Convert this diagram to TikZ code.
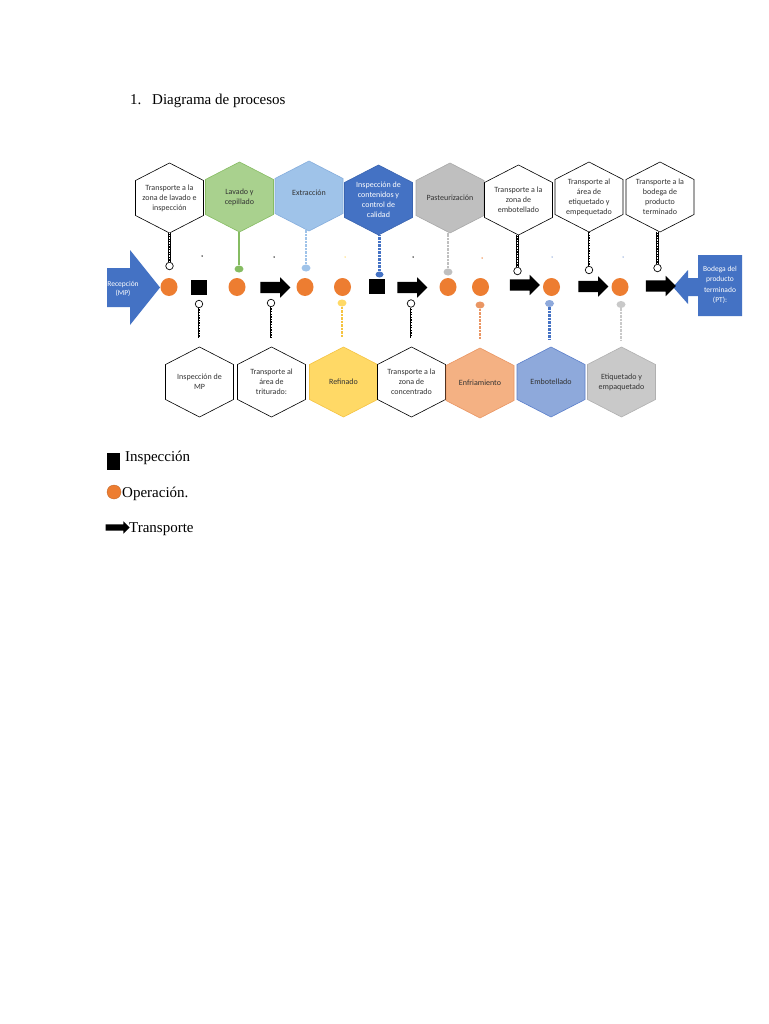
\documentclass[tikz,border=0pt]{standalone}
\usepackage{fontspec}
\setmainfont{Liberation Serif}
\newfontfamily\hexfont{Carlito}
\usetikzlibrary{shapes.arrows,shapes.geometric}
\definecolor{opc}{HTML}{ED7D31}
\definecolor{gfill}{HTML}{A9D18E}\definecolor{gdraw}{HTML}{86BC62}
\definecolor{lbfill}{HTML}{9FC3E9}\definecolor{lbdraw}{HTML}{86AEDD}
\definecolor{dbfill}{HTML}{4472C4}\definecolor{dbdraw}{HTML}{3A64B0}
\definecolor{gyfill}{HTML}{BFBFBF}\definecolor{gydraw}{HTML}{A8A8A8}
\definecolor{yfill}{HTML}{FFD966}\definecolor{ydraw}{HTML}{F5C342}
\definecolor{sfill}{HTML}{F4B183}\definecolor{sdraw}{HTML}{EA9663}
\definecolor{efill}{HTML}{8EA9DB}\definecolor{edraw}{HTML}{5B7FCB}
\definecolor{etfill}{HTML}{C9C9C9}\definecolor{etdraw}{HTML}{B0B0B0}
\definecolor{txtc}{HTML}{333333}
\newcommand\hexa[6]{%
  \draw[#4] (#2,#3) ++(0,-35) -- ++(34,17.5) -- ++(0,35) -- ++(-34,17.5) -- ++(-34,-17.5) -- ++(0,-35) -- cycle;
  \node[hextxt,#5] (#1) at (#2,#3) {#6};}
\begin{document}
\begin{tikzpicture}[x=1pt,y=-1pt,
  hexw/.style={draw=black,fill=white,line width=0.6pt},
  hexc/.style={fill=#1fill,draw=#1draw,line width=0.6pt},
  hextxt/.style={minimum width=68pt,minimum height=70pt,inner sep=0pt,align=center,
     font=\hexfont\fontsize{8}{10}\selectfont,text=txtc},
  op/.style={ellipse,fill=opc,minimum width=17pt,minimum height=18pt,inner sep=0pt},
  insp/.style={rectangle,fill=black,minimum width=16pt,minimum height=15pt,inner sep=0pt},
  tr/.style={single arrow,fill=black,minimum height=30pt,inner xsep=0pt,inner ysep=5.5pt,
     single arrow head extend=4.5pt},
  knobw/.style={circle,draw=black,fill=white,line width=0.7pt,minimum size=7.5pt,inner sep=0pt},
  knobc/.style={ellipse,fill=#1,minimum width=9pt,minimum height=7pt,inner sep=0pt},
  chainb/.style={draw=black,line width=2.4pt,
     postaction={draw=white,line width=0.8pt,dash pattern=on 1.3pt off 1.3pt}},
  chainc/.style={draw=#1,line width=2.5pt,dash pattern=on 2.5pt off 1pt},
  dot/.style={circle,fill=#1,minimum size=1.5pt,inner sep=0pt},
  legtxt/.style={font=\fontsize{15}{18}\selectfont,inner sep=0pt,anchor=base west}]
\useasboundingbox (0,0) rectangle (768,1024);
\fill[white] (0,0) rectangle (768,1024);

% title
\node[legtxt] (num) at (130,105) {1.};
\node[legtxt] (title) at (152,105) {Diagrama de procesos};

% top hexagons
\hexa{h1}{169.5}{198}{hexw}{}{Transporte a la\\zona de lavado e\\inspección}
\hexa{h2}{239.5}{197}{hexc=g}{}{Lavado y\\cepillado}
\hexa{h3}{309}{196}{hexc=lb}{yshift=3pt}{Extracción}
\hexa{h4}{378.5}{200}{hexc=db}{text=white}{Inspección de\\contenidos y\\control de\\calidad}
\hexa{h5}{450}{198}{hexc=gy}{}{Pasteurización}
\hexa{h6}{518.5}{200}{hexw}{}{Transporte a la\\zona de\\embotellado}
\hexa{h7}{589}{197}{hexw}{}{Transporte al\\área de\\etiquetado y\\empequetado}
\hexa{h8}{660}{197}{hexw}{}{Transporte a la\\bodega de\\producto\\terminado}

% bottom hexagons
\hexa{b1}{199.5}{382}{hexw}{}{Inspección de\\MP}
\hexa{b2}{271.5}{382}{hexw}{}{Transporte al\\área de\\triturado:}
\hexa{b3}{343.5}{382}{hexc=y}{}{Refinado}
\hexa{b4}{411.5}{382}{hexw}{}{Transporte a la\\zona de\\concentrado}
\hexa{b5}{480}{383}{hexc=s}{}{Enfriamiento}
\hexa{b6}{551}{382}{hexc=e}{}{Embotellado}
\hexa{b7}{621.5}{382}{hexc=et}{}{Etiquetado y\\empaquetado}

% reception arrow
\fill[dbfill] (107,268) -- (130,268) -- (130,250) -- (160,287.5) -- (130,325) -- (130,307) -- (107,307) -- cycle;
\node[font=\hexfont\fontsize{7.5}{9}\selectfont,text=white,align=center,inner sep=0pt] (rec) at (123,289) {Recepción\\(MP)};

% bodega arrow
\fill[dbfill] (742,255) -- (742,316) -- (698,316) -- (698,296) -- (688,296) -- (688,304) -- (673,287) -- (688,270) -- (688,278) -- (698,278) -- (698,255) -- cycle;
\node[font=\hexfont\fontsize{7.5}{10.5}\selectfont,text=white,align=center,inner sep=0pt] (bod) at (720,285) {Bodega del\\producto\\terminado\\(PT):};

% process row
\node[op] (o1) at (169,287) {};
\node[insp] (i1) at (199,287.5) {};
\node[op] (o2) at (237,287) {};
\node[tr] (t1) at (272.5,287.5) {};
\node[op] (o3) at (305,287) {};
\node[op] (o4) at (342.5,287) {};
\node[insp] (i2) at (377,286.5) {};
\node[tr] (t2) at (409.5,287.5) {};
\node[op] (o5) at (448,287) {};
\node[op] (o6) at (480.5,287) {};
\node[tr] (t3) at (522,285) {};
\node[op] (o7) at (551.5,287) {};
\node[tr] (t4) at (590.5,286.5) {};
\node[op] (o8) at (620,287) {};
\node[tr] (t5) at (658,286) {};

% top knobs and connectors
\node[knobw] (k1) at (169.5,266) {};
\node[knobc=gdraw] (k2) at (239,269) {};
\node[knobc=lbfill] (k3) at (306,268) {};
\node[knobc=dbfill,minimum width=8pt,minimum height=6pt] (k4) at (379.5,274.5) {};
\node[knobc=gyfill] (k5) at (448,272) {};
\node[knobw] (k6) at (517.5,271) {};
\node[knobw] (k7) at (589,270) {};
\node[knobw] (k8) at (657.5,268) {};
\draw[chainb] (k1.north) -- (k1 |- h1.south);
\draw[chainc=gdraw,solid] (k2.north) -- (k2 |- h2.south);
\draw[chainc=lbfill] (k3.north) -- (k3 |- h3.south);
\draw[chainc=dbfill] (k4.north) -- (k4 |- h4.south);
\draw[chainc=gyfill] (k5.north) -- (k5 |- h5.south);
\draw[chainb] (k6.north) -- (k6 |- h6.south);
\draw[chainb] (k7.north) -- (k7 |- h7.south);
\draw[chainb] (k8.north) -- (k8 |- h8.south);

% bottom knobs and connectors
\node[knobw] (m1) at (199,304) {};
\node[knobw] (m2) at (271,303) {};
\node[knobc=yfill] (m3) at (342,303) {};
\node[knobw] (m4) at (411,303.5) {};
\node[knobc=sdraw] (m5) at (480,305) {};
\node[knobc=efill] (m6) at (549.5,303.5) {};
\node[knobc=etfill] (m7) at (621,304.5) {};
\draw[chainb,shorten >=9pt] (m1.south) -- (m1 |- b1.north);
\draw[chainb,shorten >=9pt] (m2.south) -- (m2 |- b2.north);
\draw[chainc=ydraw,shorten >=9pt] (m3.south) -- (m3 |- b3.north);
\draw[chainb,shorten >=9pt] (m4.south) -- (m4 |- b4.north);
\draw[chainc=sdraw,shorten >=9pt] (m5.south) -- (m5 |- b5.north);
\draw[chainc=dbfill,shorten >=7pt] (m6.south) -- (m6 |- b6.north);
\draw[chainc=etfill,shorten >=7pt] (m7.south) -- (m7 |- b7.north);

% tiny marks
\node[dot=black] (d1) at (202,256) {};
\node[dot=black] (d2) at (274,257) {};
\node[dot=yfill] (d3) at (345,257) {};
\node[dot=black] (d4) at (413,257) {};
\node[dot=opc] (d5) at (482,258) {};
\node[dot=efill] (d6) at (552,257) {};
\node[dot=efill] (d7) at (623,257) {};

% legend
\node[rectangle,fill=black,minimum width=13pt,minimum height=17pt,inner sep=0pt] (li) at (113.5,461.5) {};
\node[legtxt] (lit) at (125,461) {Inspección};
\node[circle,fill=opc,draw=opc!80!black,line width=0.3pt,minimum size=14pt,inner sep=0pt] (lo) at (114,492) {};
\node[legtxt] (lot) at (122,497) {Operación.};
\node[single arrow,fill=black,minimum height=24pt,inner xsep=0pt,inner ysep=3pt,single arrow head extend=3pt] (lt) at (116,527.5) {};
\node[legtxt] (ltt) at (129,532) {Transporte};
\end{tikzpicture}
\end{document}
